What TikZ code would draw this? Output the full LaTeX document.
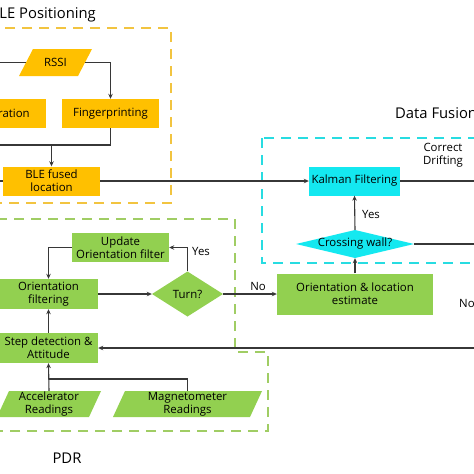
\documentclass[tikz,border=0pt]{standalone}
\usepackage{fontspec}
\setmainfont{Open Sans}
\usetikzlibrary{arrows.meta,calc}
\definecolor{ybox}{RGB}{255,192,0}
\definecolor{ydash}{RGB}{242,196,64}
\definecolor{gbox}{RGB}{146,208,80}
\definecolor{gdash}{RGB}{160,205,100}
\definecolor{cbox}{RGB}{20,232,240}
\definecolor{cdash}{RGB}{40,220,225}
\definecolor{ln}{RGB}{55,55,55}
% parallelogram: name, cx, cy, half width (mid), half height, half slant, colour, text
\newcommand\mypgram[8]{%
  \fill[#7] (#2-#4+#6,#3-#5) -- (#2+#4+#6,#3-#5) -- (#2+#4-#6,#3+#5) -- (#2-#4-#6,#3+#5) -- cycle;
  \node[txt, minimum width=2*#4 pt, minimum height=2*#5 pt] (#1) at (#2,#3) {#8};}
% diamond: name, cx, cy, half width, half height, colour, text
\newcommand\mydmd[7]{%
  \fill[#6] (#2-#4,#3) -- (#2,#3-#5) -- (#2+#4,#3) -- (#2,#3+#5) -- cycle;
  \node[txt, minimum width=2*#4 pt, minimum height=2*#5 pt] (#1) at (#2,#3) {#7};}
\begin{document}
\begin{tikzpicture}[x=1pt,y=-1pt,
  txt/.style={font=\fontsize{11.4}{13.3}\selectfont, align=center, inner sep=0pt},
  box/.style={txt, minimum height=29pt},
  ttl/.style={font=\fontsize{14.8}{17}\selectfont, inner sep=0pt},
  conn/.style={draw=ln, line width=1.1pt},
  arr/.style={conn, -{Stealth[length=5pt,width=4.5pt]}},
  dsh/.style={line width=1.8pt, dash pattern=on 10pt off 7pt}]
\useasboundingbox (0,0) rectangle (474,474);
\fill[white] (0,0) rectangle (474,474);
\clip (0,0) rectangle (474,474);
% group frames
\draw[dsh, ydash] (-20,28) rectangle (171,203);
\draw[dsh, cdash] (262,138) rectangle (500,263);
\draw[dsh, gdash] (-20,219) -- (235,219) -- (235,352) -- (268,352) -- (268,431) -- (-20,431);
% titles
\node[ttl, anchor=base east] (tb) at (96,18) {BLE Positioning};
\node[ttl, anchor=base west] (td) at (395,118) {Data Fusion};
\node[ttl, anchor=base] (tp) at (67,463) {PDR};
% BLE
\mypgram{rssi}{55.5}{62.5}{29.5}{13.5}{7}{ybox}{RSSI}
\node[box, fill=ybox, minimum width=97pt] (tri) at (-2.5,113.5) {Trilateration};
\node[box, fill=ybox, minimum width=97pt] (fp) at (110.5,113.5) {Fingerprinting};
\node[box, fill=ybox, minimum width=97pt] (ble) at (51.5,181) {BLE fused\\location};
% Data fusion
\node[box, fill=cbox, minimum width=91pt] (kal) at (354.5,181) {Kalman Filtering};
\mydmd{cw}{355}{244}{59}{14}{cbox}{Crossing wall?}
\node[txt] (cd) at (443,155.5) {Correct\\Drifting};
% PDR
\node[box, fill=gbox, minimum width=97pt] (upd) at (120.5,247.5) {Update\\Orientation filter};
\node[box, fill=gbox, minimum width=99pt, minimum height=30pt] (of) at (48.5,294) {Orientation\\filtering};
\mydmd{turn}{187.5}{294}{35.5}{22.5}{gbox}{Turn?}
\node[box, fill=gbox, minimum width=99pt, minimum height=30pt] (step) at (48.5,348) {Step detection \&\\Attitude};
\mypgram{acc}{49}{404}{46}{13}{6}{gbox}{Accelerator\\Readings}
\mypgram{mag}{187.5}{404}{68.5}{13}{6}{gbox}{Magnetometer\\Readings}
\node[box, fill=gbox, minimum width=156pt, minimum height=41pt] (ole) at (355,294) {Orientation \& location\\estimate};
% labels
\node[txt] (yes1) at (371,214) {Yes};
\node[txt] (yes2) at (201,251) {Yes};
\node[txt] (no1) at (258,286) {No};
\node[txt, anchor=west] (no2) at (459,303) {No};
% connectors
\coordinate (m1) at (51.5,145);
\coordinate (lin) at (-20,181);
\coordinate (kr) at (500,181);
\coordinate (cr) at (500,244);
\coordinate (sr) at (500,348);
\coordinate (j) at (49,379);
\draw[arr] (rssi.east) -| (fp.north);
\draw[arr] (rssi.west) -| (tri.north);
\draw[conn] (fp.south) |- (m1);
\draw[conn] (tri.south) |- (m1);
\draw[arr] (m1) -- (ble.north);
\draw[conn] (lin) -- (ble.west);
\draw[arr] (ble.east) -- (kal.west);
\draw[conn] (kal.east) -- (kr);
\draw[arr] (cw.north) -- (kal.south);
\draw[conn] (cw.east) -- (cr);
\draw[arr] (ole.north) -- (cw.south);
\draw[arr] (sr) -- (step.east);
\draw[arr] (acc.north) -- (step.south);
\draw[conn] (mag.north) |- (j);
\draw[arr] (step.north) -- (of.south);
\draw[arr] (of.east) -- (turn.west);
\draw[arr] (turn.north) |- (upd.east);
\draw[arr] (upd.west) -| (of.north);
\draw[arr] (turn.east) -- (ole.west);
\end{tikzpicture}
\end{document}
